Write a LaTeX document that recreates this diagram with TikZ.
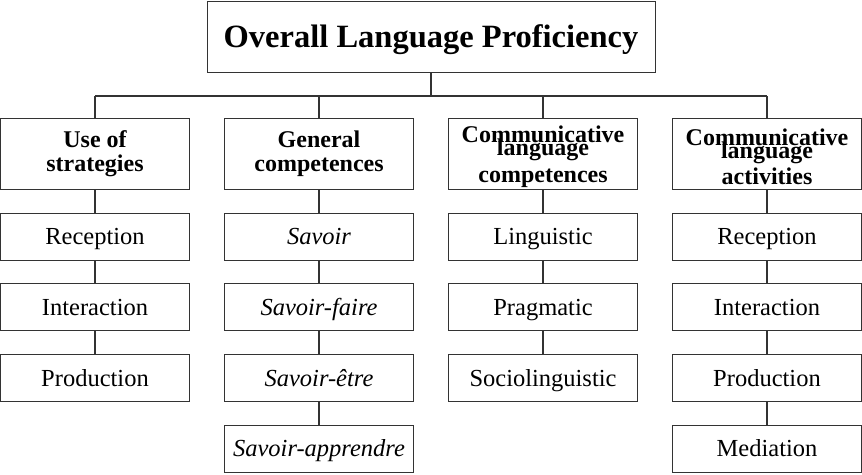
\documentclass[tikz,border=0pt]{standalone}
\usepackage{fontspec}
\setmainfont{Liberation Serif}
\begin{document}
\begin{tikzpicture}[x=1pt,y=-1pt,
  box/.style={draw=black!80,line width=1pt,rectangle,inner sep=0pt,minimum width=189pt,align=center},
  titlebox/.style={box,minimum width=448pt,minimum height=71pt,font=\fontsize{32.5}{34}\selectfont\bfseries,text height=21.5pt,text depth=0pt},
  headbox/.style={box,minimum height=70.6pt,font=\fontsize{24}{24}\selectfont\bfseries},
  itembox/.style={box,minimum height=47pt,font=\fontsize{24.5}{26}\selectfont,text height=16.2pt,text depth=0pt},
  link/.style={draw=black!80,line width=1.2pt}]
\useasboundingbox (0,0) rectangle (862,474);
\node[titlebox] (title) at (431,36.5) {Overall Language Proficiency};
\coordinate (bus) at (431,96);
% level 1
\node[headbox] (c1) at (95,154) {Use of\\strategies};
\node[headbox] (c2) at (319,154) {General\\competences};
\node[headbox] (c3) at (543,154) {\rule{0pt}{22pt}Communicative\\[-11pt]language\\[2.7pt]competences};
\node[headbox] (c4) at (767,154) {\rule{0pt}{22pt}Communicative\\[-11pt]language\\[2.7pt]activities};
% column 1
\node[itembox] (a1) at (95,236.7) {Reception};
\node[itembox] (a2) at (95,307.2) {Interaction};
\node[itembox] (a3) at (95,378.2) {Production};
% column 2
\node[itembox,font=\fontsize{24.5}{26}\selectfont\itshape] (b1) at (319,236.7) {Savoir};
\node[itembox,font=\fontsize{24.5}{26}\selectfont\itshape] (b2) at (319,307.2) {Savoir-faire};
\node[itembox,font=\fontsize{24.5}{26}\selectfont\itshape] (b3) at (319,378.2) {Savoir-être};
\node[itembox,font=\fontsize{24.5}{26}\selectfont\itshape] (b4) at (319,448.8) {Savoir-apprendre};
% column 3
\node[itembox] (d1) at (543,236.7) {Linguistic};
\node[itembox] (d2) at (543,307.2) {Pragmatic};
\node[itembox] (d3) at (543,378.2) {Sociolinguistic};
% column 4
\node[itembox] (e1) at (767,236.7) {Reception};
\node[itembox] (e2) at (767,307.2) {Interaction};
\node[itembox] (e3) at (767,378.2) {Production};
\node[itembox] (e4) at (767,448.8) {Mediation};
% connectors
\draw[link] (title.south) -- (bus);
\draw[link] (c1.north |- bus) -- (c4.north |- bus);
\foreach \c in {c1,c2,c3,c4} \draw[link] (\c.north) -- (\c.north |- bus);
\draw[link] (c1) -- (a1);
\draw[link] (a1) -- (a2);
\draw[link] (a2) -- (a3);
\draw[link] (c2) -- (b1);
\draw[link] (b1) -- (b2);
\draw[link] (b2) -- (b3);
\draw[link] (b3) -- (b4);
\draw[link] (c3.south) -- (d1.north);
\draw[link] (d1) -- (d2);
\draw[link] (d2) -- (d3);
\draw[link] (c4.south) -- (e1.north);
\draw[link] (e1) -- (e2);
\draw[link] (e2) -- (e3);
\draw[link] (e3) -- (e4);
\end{tikzpicture}
\end{document}
